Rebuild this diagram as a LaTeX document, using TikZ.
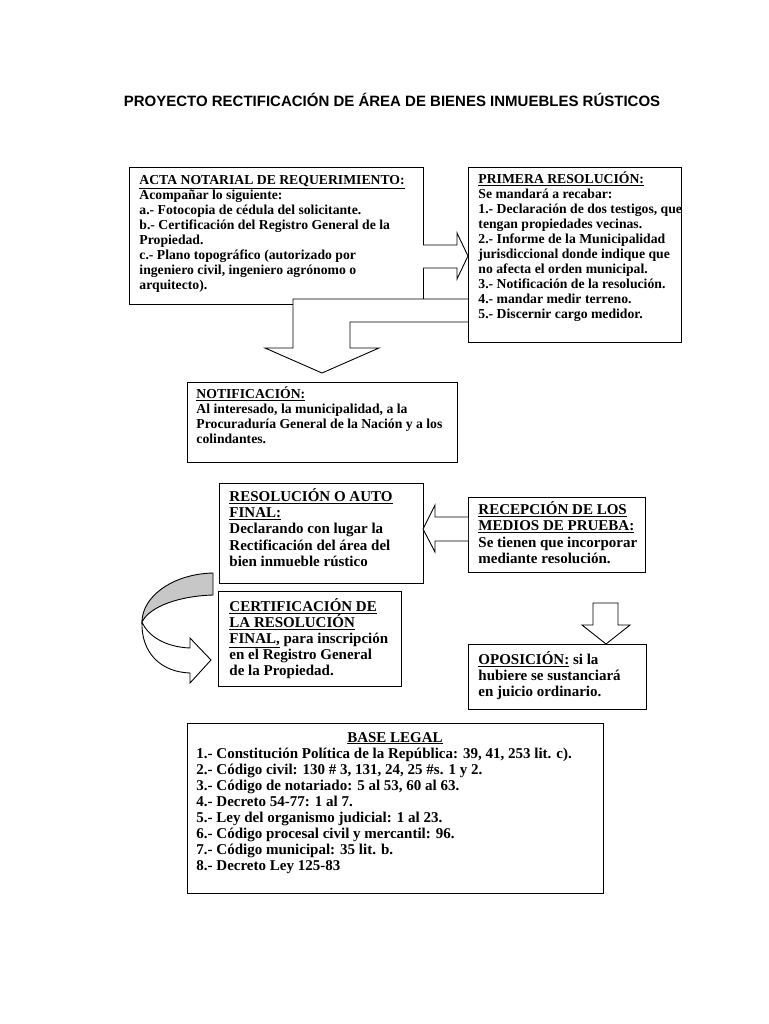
\documentclass[tikz,border=0pt]{standalone}
\usepackage{fontspec}
\setmainfont{Liberation Serif}
\newfontfamily\arialfont{Liberation Sans}
\newcommand\ulx[1]{\underline{#1}}
\newcommand\fst{\rule{0pt}{15pt}}
\newcommand\tightls{\lineskiplimit-50pt\relax}
\newcommand\fS{\fontsize{13.7}{15}\selectfont\bfseries\tightls}
\newcommand\fL{\fontsize{15}{16.2}\selectfont\bfseries\tightls}
\newcommand\fM{\fontsize{15}{16}\selectfont\bfseries\tightls}
\newcommand\fR{\fontsize{15}{16.3}\selectfont\bfseries\tightls}
\begin{document}
\begin{tikzpicture}[x=1pt,y=-1pt,line width=0.9pt,
  box/.style={draw=black,fill=white,line width=1pt,inner sep=0pt,anchor=north west},
  txtS/.style={inner sep=0pt,anchor=north west,align=left,font=\fS},
  txtL/.style={inner sep=0pt,anchor=north west,align=left,font=\fL},
  blockarrow/.style={draw=black,fill=white,line width=0.9pt,line join=miter},
  shade/.style={draw=black,fill=black!22,line width=0.9pt}
]
\useasboundingbox (0,0) rectangle (768,1024);
\fill[white] (0,0) rectangle (768,1024);

% title
\node[anchor=base,inner sep=0pt,font=\arialfont\bfseries\fontsize{15}{18}\selectfont] (title) at (392,107)
  {PROYECTO RECTIFICACIÓN DE ÁREA DE BIENES INMUEBLES RÚSTICOS};

% box 1
\node[box,minimum width=294pt,minimum height=137pt] (acta) at (129,167) {};
\node[txtS] (actatxt) at (139,169) {\fst\ulx{ACTA NOTARIAL DE REQUERIMIENTO:}\\
Acompañar lo siguiente:\\
a.- Fotocopia de cédula del solicitante.\\
b.- Certificación del Registro General de la\\
Propiedad.\\
c.- Plano topográfico (autorizado por\\
ingeniero civil, ingeniero agrónomo o\\
arquitecto).};

% elbow arrow down (from primera to notificacion)
\draw[blockarrow] (468,299) -- (293,299) -- (293,348) -- (265,348) -- (322,373)
  -- (379,348) -- (350,348) -- (350,322) -- (468,322);

% right arrow
\draw[blockarrow] (423,245) -- (457,245) -- (457,233) -- (468,256) -- (457,279)
  -- (457,268) -- (423,268);

% primera resolucion
\node[box,minimum width=213pt,minimum height=175pt] (primera) at (468,167) {};
\node[txtS] (primeratxt) at (478,168) {\fst\ulx{PRIMERA RESOLUCIÓN:}\\
Se mandará a recabar:\\
1.- Declaración de dos testigos, que\\
tengan propiedades vecinas.\\
2.- Informe de la Municipalidad\\
jurisdiccional donde indique que\\
no afecta el orden municipal.\\
3.- Notificación de la resolución.\\
4.- mandar medir terreno.\\
5.- Discernir cargo medidor.};

% notificacion
\node[box,minimum width=270pt,minimum height=80pt] (notif) at (187,382) {};
\node[txtS] (notiftxt) at (196,383) {\fst\ulx{NOTIFICACIÓN:}\\
Al interesado, la municipalidad, a la\\
Procuraduría General de la Nación y a los\\
colindantes.};

% resolucion final
\node[box,minimum width=204pt,minimum height=100pt] (resol) at (219,483) {};
\node[txtL] (resoltxt) at (229,486) {\fst\ulx{RESOLUCIÓN O AUTO}\\
\ulx{FINAL:}\\
Declarando con lugar la\\
Rectificación del área del\\
bien inmueble rústico};

% recepcion
\node[box,minimum width=177pt,minimum height=75pt] (recep) at (468,497) {};
\node[txtL,font=\fR] (receptxt) at (478,499) {\fst\ulx{RECEPCIÓN DE LOS}\\
\ulx{MEDIOS DE PRUEBA:}\\
Se tienen que incorporar\\
mediante resolución.};

% left arrow
\draw[blockarrow] (468,517) -- (435,517) -- (435,505) -- (423,529) -- (435,552)
  -- (435,541) -- (468,541);

% certificacion
\node[box,minimum width=183pt,minimum height=95pt] (certif) at (218,591) {};
\node[txtL,font=\fM] (certiftxt) at (229,596) {\fst\ulx{CERTIFICACIÓN DE}\\
\ulx{LA RESOLUCIÓN}\\
\ulx{FINAL,} para inscripción\\
en el Registro General\\
de la Propiedad.};

% curved arrow
\draw[shade] (213,573) .. controls (172,574) and (142,597) .. (142,622)
  .. controls (150,606) and (180,596) .. (213,595) -- cycle;
\draw[blockarrow] (190,648) -- (190,638) -- (211,660) -- (190,683) -- (190,673)
  .. controls (160,672) and (141,652) .. (142,622)
  .. controls (148,636) and (165,647) .. (190,648) -- cycle;

% small down arrow
\draw[blockarrow] (593,603) -- (618,603) -- (618,625) -- (630,625) -- (606,644)
  -- (582,625) -- (593,625) -- cycle;

% oposicion
\node[box,minimum width=178pt,minimum height=65pt] (opos) at (468,644) {};
\node[txtL,font=\fM] (opostxt) at (478,649) {\fst\ulx{OPOSICIÓN:} si la\\
hubiere se sustanciará\\
en juicio ordinario.};

% base legal
\node[box,minimum width=416pt,minimum height=170pt] (base) at (187,723) {};
\node[anchor=base,inner sep=0pt,font=\fM] (basetitle) at (395,742) {\ulx{BASE LEGAL}};
\node[txtL,font=\fM] (basetxt) at (196,743) {\fst 1.- Constitución Política de la República: 39, 41, 253 lit. c).\\
2.- Código civil: 130 \# 3, 131, 24, 25 \#s. 1 y 2.\\
3.- Código de notariado: 5 al 53, 60 al 63.\\
4.- Decreto 54-77: 1 al 7.\\
5.- Ley del organismo judicial: 1 al 23.\\
6.- Código procesal civil y mercantil: 96.\\
7.- Código municipal: 35 lit. b.\\
8.- Decreto Ley 125-83};
\end{tikzpicture}
\end{document}
